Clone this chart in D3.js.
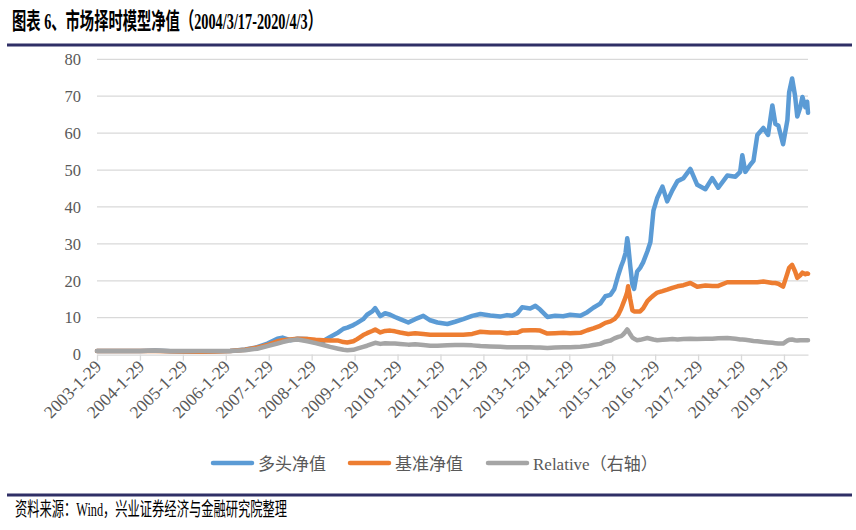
<!DOCTYPE html>
<html><head><meta charset="utf-8">
<script src="https://cdn.jsdelivr.net/npm/d3@7"></script>
<style>body{margin:0;background:#fff}</style></head>
<body><svg id="c" width="856" height="530"></svg>
<script>
// years since 2003-1-29
const t = [0.00,0.31,0.66,1.01,1.36,1.71,2.06,2.41,2.76,3.10,3.45,3.73,3.97,4.20,4.32,4.50,4.67,4.90,5.09,5.27,5.43,5.62,5.74,5.83,5.97,6.06,6.20,6.29,6.41,6.48,6.60,6.71,6.83,6.94,7.06,7.25,7.41,7.60,7.76,7.93,8.16,8.34,8.53,8.74,8.93,9.16,9.39,9.55,9.67,9.79,9.90,10.09,10.21,10.32,10.49,10.67,10.86,11.02,11.26,11.42,11.56,11.72,11.84,11.96,12.05,12.14,12.21,12.26,12.31,12.35,12.37,12.42,12.47,12.51,12.58,12.65,12.72,12.82,12.89,12.96,13.05,13.17,13.28,13.40,13.52,13.66,13.82,13.98,14.17,14.33,14.47,14.68,14.87,14.98,15.03,15.10,15.22,15.29,15.38,15.52,15.63,15.73,15.80,15.87,15.98,16.08,16.12,16.19,16.26,16.31,16.38,16.43,16.50,16.54,16.56];
const longNav = [1.0,1.0,0.95,1.0,1.1,0.9,0.85,0.8,0.9,1.0,1.4,2.0,3.0,4.3,4.6,3.9,4.3,4.2,3.5,3.7,4.8,6.0,7.0,7.3,8.0,8.6,9.6,10.8,11.7,12.6,10.4,11.2,10.8,10.2,9.6,8.7,9.6,10.5,9.3,8.7,8.3,8.9,9.6,10.5,11.0,10.6,10.3,10.7,10.5,11.2,12.8,12.5,13.2,12.2,10.2,10.5,10.4,10.8,10.5,11.5,12.7,13.8,15.8,16.2,17.8,21.5,24.0,25.5,27.5,31.5,30.0,24.0,19.0,17.8,22.5,23.5,25.0,28.0,30.5,39.0,42.5,45.5,41.5,44.5,47.0,47.8,50.3,46.0,44.8,47.8,45.2,48.5,48.2,49.5,54.0,49.5,51.5,52.5,59.5,61.4,59.5,67.5,62.5,62.0,57.0,63.5,71.0,74.8,70.0,64.5,67.0,69.8,67.0,68.5,65.5];
const benchNav = [1.0,1.0,0.95,1.0,1.0,0.9,0.85,0.8,0.85,1.0,1.3,1.9,2.6,3.6,3.9,4.1,4.3,4.2,4.0,3.9,3.8,3.8,3.4,3.3,3.6,4.2,5.3,5.8,6.4,6.8,6.0,6.4,6.5,6.3,6.0,5.6,5.8,5.6,5.4,5.4,5.4,5.4,5.4,5.6,6.2,6.0,6.0,5.8,5.9,5.9,6.5,6.6,6.6,6.5,5.7,5.8,5.9,5.8,5.9,6.6,7.1,7.8,8.6,9.0,9.6,10.8,12.5,14.0,15.5,17.0,18.5,15.0,12.0,11.7,11.7,11.7,12.5,14.5,15.3,16.0,16.8,17.2,17.6,18.1,18.5,18.8,19.4,18.4,18.7,18.6,18.6,19.6,19.6,19.6,19.6,19.6,19.6,19.6,19.6,19.8,19.6,19.4,19.4,19.2,18.4,22.0,23.5,24.3,22.5,20.8,21.5,22.2,21.8,22.0,21.9];
const relative = [1.0,1.0,1.0,1.0,1.1,1.0,0.95,0.95,0.95,1.0,1.2,1.6,2.3,3.0,3.4,3.9,4.1,3.6,3.1,2.6,2.1,1.6,1.3,1.2,1.3,1.6,2.1,2.4,2.9,3.2,2.9,3.1,3.0,3.0,2.9,2.7,2.8,2.6,2.4,2.4,2.5,2.6,2.6,2.5,2.3,2.2,2.1,2.0,2.0,2.0,2.0,2.0,1.9,1.9,1.8,1.9,2.0,2.0,2.1,2.3,2.6,2.9,3.5,3.8,4.4,4.8,5.0,5.5,6.2,6.8,6.5,5.5,4.6,4.3,3.9,4.0,4.2,4.5,4.3,4.1,3.9,4.0,4.1,4.2,4.1,4.2,4.3,4.2,4.3,4.3,4.4,4.5,4.3,4.1,4.1,4.0,3.8,3.7,3.6,3.4,3.3,3.2,3.1,3.0,3.0,3.8,4.0,4.1,3.9,3.8,3.9,3.9,3.9,3.9,3.9];
const xTickLabels = ["2003-1-29","2004-1-29","2005-1-29","2006-1-29","2007-1-29","2008-1-29","2009-1-29","2010-1-29","2011-1-29","2012-1-29","2013-1-29","2014-1-29","2015-1-29","2016-1-29","2017-1-29","2018-1-29","2019-1-29"];
const yTicks = [0,10,20,30,40,50,60,70,80];
const seriesNames = ["多头净值","基准净值","Relative（右轴）"];
const seriesColors = ["#5B9BD5","#ED7D31","#A5A5A5"];

const svg = d3.select("#c");
const latin = "'Liberation Serif','Times New Roman','Noto Sans CJK SC',serif";
const cjk = "'Liberation Serif','Noto Sans CJK SC',serif";
const navy = "#2F2F66";

// title
svg.append("text").attr("x",12).attr("y",29)
  .attr("font-family",cjk).attr("font-weight","bold").attr("font-size",23)
  .attr("fill","#000").attr("textLength",310).attr("lengthAdjust","spacingAndGlyphs")
  .text("图表 6、市场择时模型净值（2004/3/17-2020/4/3）");
svg.append("rect").attr("x",7).attr("y",43.5).attr("width",845).attr("height",3).attr("fill",navy);
svg.append("rect").attr("x",7).attr("y",493.5).attr("width",845).attr("height",3).attr("fill",navy);
svg.append("text").attr("x",15).attr("y",516)
  .attr("font-family",cjk).attr("font-size",19.5).attr("fill","#000")
  .attr("textLength",272).attr("lengthAdjust","spacingAndGlyphs")
  .text("资料来源：Wind，兴业证券经济与金融研究院整理");

const x = d3.scaleLinear().domain([0,16.56]).range([97,808]);
const y = d3.scaleLinear().domain([0,80]).range([354.6,59.3]);

// gridlines
svg.append("g").selectAll("line").data(yTicks.filter(d=>d>0)).join("line")
  .attr("x1",97).attr("x2",808).attr("y1",d=>y(d)).attr("y2",d=>y(d))
  .attr("stroke","#D9D9D9").attr("stroke-width",1.3);

// y axis labels
const ya = svg.append("g").attr("transform","translate(97,0)")
  .call(d3.axisLeft(y).tickValues(yTicks).tickSize(0).tickPadding(16));
ya.select(".domain").remove();
ya.selectAll("text").attr("font-family",latin).attr("font-size",16.5).attr("fill","#595959");

// x axis
const xa = svg.append("g").attr("transform","translate(0,354.6)")
  .call(d3.axisBottom(x).tickValues(d3.range(xTickLabels.length)).tickFormat(i=>xTickLabels[i]).tickSize(6).tickSizeOuter(0));
xa.select(".domain").attr("stroke","#D9D9D9").attr("stroke-width",1.3);
xa.selectAll(".tick line").attr("stroke","#D9D9D9").attr("stroke-width",1.3);
xa.selectAll("text").attr("font-family",latin).attr("font-size",17.5).attr("fill","#595959")
  .attr("text-anchor","end").attr("dy",null).attr("y",0)
  .attr("transform","translate(5,13) rotate(-45)");

// lines
const series = [longNav, benchNav, relative];
const line = d3.line().x((d,i)=>x(t[i])).y(d=>y(d));
svg.append("g").selectAll("path").data(series).join("path")
  .attr("d",d=>line(d)).attr("fill","none")
  .attr("stroke",(d,i)=>seriesColors[i]).attr("stroke-width",4.5)
  .attr("stroke-linejoin","round").attr("stroke-linecap","round");

// legend
const legendX = [213,350,488];
const lg = svg.append("g").selectAll("g").data(seriesNames).join("g")
  .attr("transform",(d,i)=>`translate(${legendX[i]},463)`);
lg.append("line").attr("x1",0).attr("x2",39).attr("y1",0).attr("y2",0)
  .attr("stroke",(d,i)=>seriesColors[i]).attr("stroke-width",4.5).attr("stroke-linecap","round");
lg.append("text").attr("x",45).attr("y",6.5).attr("font-family",cjk).attr("font-size",17)
  .attr("fill","#595959").text(d=>d);
</script></body></html>
